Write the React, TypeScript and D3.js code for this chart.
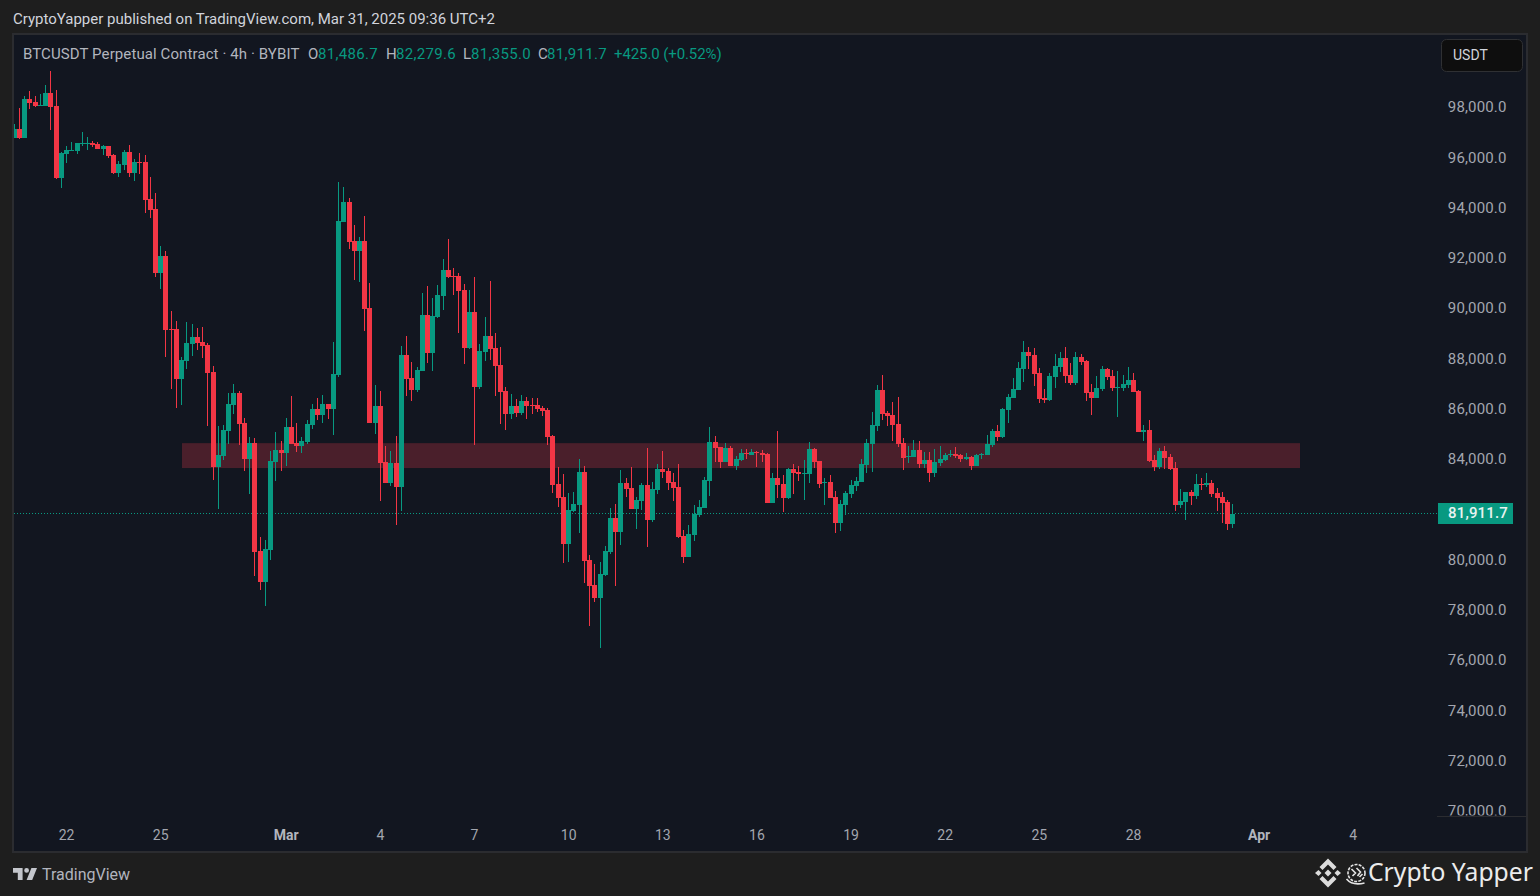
import React, { useEffect, useRef } from 'react';
import * as d3 from 'd3';

const H4 = 4 * 3600 * 1000;
const firstCandle = Date.UTC(2025, 1, 20, 8);

const opens = [
  96850,97200,96850,98400,98280,98130,98130,98640,98120,95260,
  96210,96330,96330,96620,96620,96650,96610,96410,96530,96170,
  95460,95770,96290,95460,95890,95890,94420,94020,91480,92150,
  89250,89250,87260,87970,88650,88930,88730,88610,87540,83760,
  84200,85190,86230,86700,85510,84080,84710,80420,79180,80460,
  83960,84440,84320,85350,84710,84590,84750,85430,86070,85830,
  86270,86070,87420,93510,94300,92750,92350,92750,90080,85510,
  86190,83960,83120,83920,82960,88220,87300,86820,87580,89810,
  88290,89730,90560,91600,91360,91360,90800,88490,89930,86940,
  88330,88970,88490,87820,86780,85870,86190,85910,86390,86230,
  86230,86110,86030,84990,83080,82570,80700,82010,82250,83560,
  80060,79060,78550,79460,80380,81730,81170,83120,82920,82090,
  82410,83040,81650,82840,83680,83600,83160,82960,81010,80180,
  81050,81850,82130,83200,84750,84550,83960,84510,83800,84040,
  84320,84240,84360,84320,84280,82330,83320,83080,82530,83680,
  83560,83480,83480,84480,84000,83120,83160,82570,81530,82250,
  82690,83000,83160,83840,84670,85390,86820,85910,85830,85470,
  84710,84160,84160,84440,83880,84040,83520,83920,84040,84240,
  84280,84240,84080,84160,83800,84240,84240,84630,85190,84950,
  86030,86500,86820,87660,88330,88210,87500,86500,86420,87340,
  87740,88100,87420,87100,88130,87980,86740,86500,86860,87660,
  87380,86900,86900,87020,87220,86780,85150,85230,84040,83760,
  84400,84160,83720,82250,82370,82770,82600,83080,83040,83120,
  82720,82570,82370,81486.7,
];

const highs = [
  97400,98040,98520,98720,98520,98600,98960,99510,98760,96290,
  96530,96690,96650,97090,96890,96730,96690,96570,96530,96210,
  95930,96370,96570,96010,96250,96170,95300,94660,92550,92350,
  89960,89570,88130,89530,89450,89290,89330,88690,87780,85390,
  85430,86700,87060,86780,85710,84950,84910,80970,80850,84400,
  85150,84790,85710,86580,85510,84950,85630,86270,86500,86620,
  86270,88730,95100,94900,94460,93390,92910,93740,91080,87020,
  86780,84600,84400,84990,88570,88970,87940,87740,90680,90960,
  90480,91000,92030,92830,91680,91480,91040,90800,91320,88650,
  89730,91160,89090,88530,86940,86660,86460,86620,86540,86500,
  86500,86190,86110,85030,83760,83480,82730,82770,84080,83800,
  80260,79900,79980,80620,82130,82290,83640,83320,83760,82570,
  83120,84510,83160,83880,84400,83720,83520,83880,81250,81450,
  82250,82450,83360,85350,84990,84550,84710,84590,84200,84480,
  84480,84480,84400,84440,84320,83520,85190,83440,83720,83880,
  83800,84040,84750,84520,84000,83320,83440,82800,82450,82800,
  83240,83360,84080,84870,85950,87020,87420,85990,86350,86540,
  84910,84590,84830,84790,84360,84360,84480,84600,84320,84440,
  84560,84280,84320,84200,84280,84320,85030,85270,85430,86110,
  86660,87300,87940,88770,88530,88490,87700,86860,87500,88250,
  88330,88530,87900,88330,88250,88020,87060,87380,87780,87700,
  87620,87580,87420,87740,87500,86820,85430,85630,84240,84510,
  84600,84280,83960,82880,82770,82840,83480,83320,83520,83240,
  82920,82770,82450,82279.6,
];

const lows = [
  96850,96810,96850,98000,98080,98130,98130,97160,95220,94860,
  95850,96330,96210,96530,96370,96490,96410,96170,96050,95420,
  95300,95570,95300,95140,95420,93860,93670,91320,90840,88130,
  86860,86110,86220,87660,88170,88410,88100,85390,83240,82090,
  84040,84670,85870,84630,83600,82690,79420,78870,78230,80060,
  83200,83600,83800,84670,84360,84320,84670,85270,85630,85510,
  85670,85030,87340,93510,92430,91200,91120,89170,85510,85070,
  82410,83120,83000,81450,82010,86580,86390,86740,87580,87900,
  87580,89690,90000,91280,90600,89090,87860,88450,84630,86860,
  87980,88020,86580,85470,85230,85670,85750,85830,85670,85870,
  85950,85790,84630,82720,82170,79940,79980,81970,81130,79150,
  77430,78390,76560,79420,80300,79030,80660,82570,82090,81290,
  82050,80580,81570,82690,83320,82840,82410,80930,79940,80180,
  80820,81770,82130,82610,83960,83720,83960,83800,83640,84000,
  84080,84240,83760,83960,82330,82330,82530,81970,82490,82690,
  83200,82450,83120,83720,82920,82250,82530,81130,81210,81850,
  82530,82800,83160,83520,83560,85190,85630,85390,84790,84560,
  83640,83920,84160,83720,83720,83160,83360,83800,84000,84160,
  84120,83960,84040,83640,83800,84080,84240,84560,84790,84910,
  85510,86500,86820,87140,87660,86980,86300,86300,86380,86900,
  87540,87100,87020,87020,87820,86380,85830,86500,86780,87220,
  86780,85750,86780,86900,86740,85150,84790,83960,83600,83680,
  83680,83640,82010,82130,81650,82250,82490,82840,82960,82570,
  82010,81530,81250,81355,
];

const closes = [
  97200,96850,98400,98240,98120,98160,98640,98080,95260,96250,
  96370,96370,96650,96650,96650,96570,96410,96530,96130,95460,
  95810,96290,95460,95890,95850,94380,93980,91480,92150,89210,
  89210,87260,88010,88690,88930,88690,88570,87500,83760,84240,
  85230,86270,86700,85470,84080,84710,80380,79180,80500,84000,
  84440,84320,85350,84670,84590,84790,85470,86070,85830,86270,
  86070,87460,93550,94300,92710,92350,92750,90050,85510,86190,
  83920,83120,83920,82960,88220,87260,86820,87620,89810,88290,
  89770,90600,91600,91320,91320,90760,88490,89930,86940,88370,
  88970,88450,87780,86740,85870,86190,85910,86390,86190,86190,
  86070,85990,84950,83040,82530,80700,82050,82290,83560,80020,
  79030,78550,79500,80420,81730,81170,83120,82880,82090,82450,
  83040,81650,82880,83680,83560,83120,82920,80970,80180,81090,
  81890,82170,83240,84750,84510,83960,84510,83800,84080,84320,
  84280,84360,84320,84240,82330,83320,83040,82530,83680,83520,
  83480,83520,84480,83960,83080,83160,82530,81530,82290,82720,
  83040,83200,83880,84710,85430,86820,85870,85790,85430,84670,
  84120,84200,84440,83880,84040,83520,83960,84080,84240,84280,
  84200,84080,84160,83800,84240,84280,84670,85190,84950,86070,
  86540,86860,87700,88330,88170,87460,86460,86420,87380,87780,
  88100,87380,87100,88130,87940,86700,86500,86900,87660,87340,
  86900,86940,87060,87220,86740,85150,85230,84000,83760,84400,
  84120,83680,82250,82410,82770,82600,83080,83040,83120,82690,
  82530,82330,81490,81911.7,
];

const priceTicks = [98000, 96000, 94000, 92000, 90000, 88000, 86000, 84000, 80000, 78000, 76000, 74000, 72000, 70000];

const timeTicks = [
  { date: Date.UTC(2025, 1, 22), label: '22' },
  { date: Date.UTC(2025, 1, 25), label: '25' },
  { date: Date.UTC(2025, 2, 1), label: 'Mar', month: true },
  { date: Date.UTC(2025, 2, 4), label: '4' },
  { date: Date.UTC(2025, 2, 7), label: '7' },
  { date: Date.UTC(2025, 2, 10), label: '10' },
  { date: Date.UTC(2025, 2, 13), label: '13' },
  { date: Date.UTC(2025, 2, 16), label: '16' },
  { date: Date.UTC(2025, 2, 19), label: '19' },
  { date: Date.UTC(2025, 2, 22), label: '22' },
  { date: Date.UTC(2025, 2, 25), label: '25' },
  { date: Date.UTC(2025, 2, 28), label: '28' },
  { date: Date.UTC(2025, 3, 1), label: 'Apr', month: true },
  { date: Date.UTC(2025, 3, 4), label: '4' },
];

// resistance zone drawn on the chart
const zone = { from: Date.UTC(2025, 1, 25, 16, 15), to: Date.UTC(2025, 3, 2, 7, 20), top: 84710, bottom: 83720 };

const lastPrice = 81911.7;

const legendParts = [
  { x: 308, text: 'O', up: false }, { x: 318, text: '81,486.7', up: true },
  { x: 386, text: 'H', up: false }, { x: 396, text: '82,279.6', up: true },
  { x: 463, text: 'L', up: false }, { x: 471, text: '81,355.0', up: true },
  { x: 538, text: 'C', up: false }, { x: 547, text: '81,911.7', up: true },
  { x: 614, text: '+425.0 (+0.52%)', up: true },
];

const UP = '#089981';
const DOWN = '#f23645';
const FONT = 'Roboto, sans-serif';

const App: React.FC = () => {
  const ref = useRef<SVGSVGElement>(null);

  useEffect(() => {
    if (!ref.current) return;
    const svg = d3.select(ref.current);
    svg.selectAll('*').remove();

    const x = d3.scaleUtc()
      .domain([firstCandle, firstCandle + 233 * H4])
      .range([14.3, 1232.9]);
    const y = d3.scaleLinear().domain([70000, 98000]).range([813, 109]);

    // frame
    svg.append('rect').attr('width', 1540).attr('height', 896).attr('fill', '#1e1e1e');
    svg.append('rect')
      .attr('x', 13).attr('y', 34).attr('width', 1514).attr('height', 818)
      .attr('fill', '#121620').attr('stroke', '#2b2c30').attr('stroke-width', 2);

    svg.append('text')
      .attr('x', 13).attr('y', 24)
      .attr('fill', '#d1d4dc').style('font', `15px ${FONT}`)
      .text('CryptoYapper published on TradingView.com, Mar 31, 2025 09:36 UTC+2');

    const defs = svg.append('defs');
    defs.append('clipPath').attr('id', 'scale-clip')
      .append('rect').attr('x', 1437).attr('y', 35).attr('width', 89).attr('height', 780.5);
    defs.append('clipPath').attr('id', 'pane-clip')
      .append('rect').attr('x', 14).attr('y', 35).attr('width', 1423).attr('height', 781);

    const pane = svg.append('g').attr('clip-path', 'url(#pane-clip)');

    // zone
    pane.append('rect')
      .attr('x', x(zone.from)).attr('width', x(zone.to) - x(zone.from))
      .attr('y', y(zone.top)).attr('height', y(zone.bottom) - y(zone.top))
      .attr('fill', '#4a1f2b');

    // last price line
    pane.append('line')
      .attr('x1', 14).attr('x2', 1437)
      .attr('y1', Math.floor(y(lastPrice)) + 0.5).attr('y2', Math.floor(y(lastPrice)) + 0.5)
      .attr('stroke', UP).attr('stroke-dasharray', '1 2')
      .attr('shape-rendering', 'crispEdges');

    // candles
    const candles = opens.map((o, i) => ({
      time: firstCandle + i * H4, o, h: highs[i], l: lows[i], c: closes[i],
    }));
    const g = pane.selectAll('.candle').data(candles).enter().append('g')
      .attr('class', 'candle')
      .attr('fill', d => (d.c >= d.o ? UP : DOWN))
      .attr('shape-rendering', 'crispEdges');
    g.append('rect')
      .attr('x', d => Math.floor(x(d.time)))
      .attr('width', 1)
      .attr('y', d => y(d.h))
      .attr('height', d => y(d.l) - y(d.h));
    g.append('rect')
      .attr('x', d => Math.floor(x(d.time)) - 2)
      .attr('width', 5)
      .attr('y', d => y(Math.max(d.o, d.c)))
      .attr('height', d => Math.max(1, Math.abs(y(d.o) - y(d.c))));

    // price axis
    const axis = svg.append('g')
      .attr('clip-path', 'url(#scale-clip)')
      .call(d3.axisRight(y).tickValues(priceTicks).tickSize(0).tickFormat(d3.format(',.1f') as any));
    axis.select('.domain').remove();
    axis.selectAll('text')
      .attr('x', 1506.5).attr('dy', '0.32em')
      .attr('transform', 'translate(0,-2)')
      .attr('text-anchor', 'end')
      .attr('fill', '#a3a6af')
      .style('font', `15px ${FONT}`)
      .style('letter-spacing', '0.15px');
    svg.append('line')
      .attr('x1', 1437).attr('x2', 1526).attr('y1', 816.5).attr('y2', 816.5)
      .attr('stroke', '#2b2c30');

    // last price label
    svg.append('rect')
      .attr('x', 1438).attr('y', y(lastPrice) - 10.5).attr('width', 75).attr('height', 21)
      .attr('fill', UP);
    svg.append('text')
      .attr('x', 1478).attr('y', y(lastPrice) + 4.5)
      .attr('text-anchor', 'middle').attr('fill', '#e8f3f0')
      .style('font', `500 15px ${FONT}`)
      .style('letter-spacing', '0.15px')
      .text(d3.format(',.1f')(lastPrice));

    // time axis
    svg.selectAll('.time-tick').data(timeTicks).enter().append('text')
      .attr('class', 'time-tick')
      .attr('x', d => x(d.date)).attr('y', 840)
      .attr('text-anchor', 'middle')
      .attr('fill', d => (d.month ? '#b2b5be' : '#a3a6af'))
      .style('font', d => `${d.month ? 'bold ' : ''}14px ${FONT}`)
      .text(d => d.label);

    // legend
    svg.append('text')
      .attr('x', 23).attr('y', 59)
      .attr('fill', '#b2b5be').style('font', `15px ${FONT}`)
      .style('letter-spacing', '0.1px')
      .text('BTCUSDT Perpetual Contract · 4h · BYBIT');
    svg.selectAll('.legend-part').data(legendParts).enter().append('text')
      .attr('class', 'legend-part')
      .attr('x', d => d.x).attr('y', 59)
      .attr('fill', d => (d.up ? UP : '#b2b5be'))
      .style('font', `15px ${FONT}`)
      .style('letter-spacing', d => (d.text.length === 8 ? '0.3px' : '-0.1px'))
      .text(d => d.text);

    // currency box
    svg.append('rect')
      .attr('x', 1441.5).attr('y', 39.5).attr('width', 81).attr('height', 32).attr('rx', 5)
      .attr('fill', '#0e0e0e').attr('stroke', '#2f3033');
    svg.append('text')
      .attr('x', 1453).attr('y', 60)
      .attr('fill', '#d1d4dc').style('font', `14px ${FONT}`)
      .text('USDT');

    // TradingView mark
    svg.append('path')
      .attr('transform', 'translate(11.4,863.2) scale(0.8)')
      .attr('fill', '#c4c6cc')
      .attr('d', 'M14 6H2v6h6v9h6V6Zm12 15h-7l6-15h7l-6 15Zm-7-9a3 3 0 1 0 0-6 3 3 0 0 0 0 6Z');
    svg.append('text')
      .attr('x', 42).attr('y', 880)
      .attr('fill', '#b2b5be').style('font', `16px ${FONT}`)
      .text('TradingView');

    // author watermark
    const logo = svg.append('g').attr('transform', 'translate(1328,873)').attr('fill', '#dcdcdc');
    logo.append('path').attr('d', 'M0 -3.5L3.5 0L0 3.5L-3.5 0Z');
    logo.append('path').attr('d', 'M-9.5 -3L-6.5 0L-9.5 3L-13 0Z');
    logo.append('path').attr('d', 'M9.5 -3L13 0L9.5 3L6.5 0Z');
    logo.append('path').attr('d', 'M0 -14.5L8.5 -6L5.5 -3L0 -8.5L-5.5 -3L-8.5 -6Z');
    logo.append('path').attr('d', 'M0 14.5L8.5 6L5.5 3L0 8.5L-5.5 3L-8.5 6Z');
    const seal = svg.append('g').attr('transform', 'translate(1356.5,873)')
      .attr('fill', 'none').attr('stroke', '#e4e4e4').attr('stroke-width', 1.6);
    seal.append('circle').attr('r', 8.5).attr('stroke-dasharray', '3 1.2');
    seal.append('path').attr('d', 'M-5 -4L-1 0L-4 3M0 -5L4 -1L1 3M3 4L6 1');
    seal.append('path').attr('d', 'M-10 6Q-4 13 8 10');
    svg.append('text')
      .attr('x', 1368).attr('y', 881)
      .attr('fill', '#ececec').style('font', '24.7px "Noto Sans", sans-serif')
      .text('Crypto Yapper');
  }, []);

  return <svg ref={ref} width={1540} height={896} style={{ position: 'fixed', left: 0, top: 0 }} />;
};

export default App;
